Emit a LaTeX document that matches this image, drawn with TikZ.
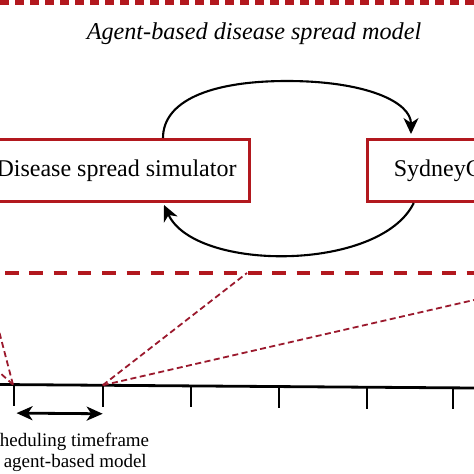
\documentclass[tikz,border=0pt]{standalone}
\usepackage{fontspec}
\setmainfont{Liberation Serif}
\usetikzlibrary{arrows.meta,calc}
\definecolor{boxred}{RGB}{178,24,30}
\definecolor{linkred}{RGB}{155,25,45}
\begin{document}
\begin{tikzpicture}[x=1pt,y=-1pt,
  box/.style={draw=boxred, line width=3pt, minimum height=62pt, inner ysep=0pt,
    font=\fontsize{24}{28}\selectfont},
  arr/.style={line width=2.1pt, -{Stealth[length=16pt,width=15pt,inset=5pt]}},
  dblarr/.style={line width=2.8pt, {Stealth[length=16pt,width=14pt,inset=4.5pt]}-{Stealth[length=16pt,width=14pt,inset=4.5pt]}},
  bigdash/.style={draw=boxred, line width=6pt, dash pattern=on 9pt off 6pt},
  middash/.style={draw=boxred, line width=4.3pt, dash pattern=on 13.5pt off 10.8pt},
  thindash/.style={draw=linkred, line width=1.8pt, dash pattern=on 6pt off 3.5pt},
  axis/.style={line width=2.8pt},
  tick/.style={line width=2.2pt}]
\useasboundingbox (0,0) rectangle (474,474);
\clip (0,0) rectangle (474,474);
\fill[white] (0,0) rectangle (474,474);

% top thick dashed frame line
\coordinate (ta) at (0,2);
\coordinate (tb) at (480,2);
\draw[bigdash] (ta) -- (tb);

% title
\node[font=\fontsize{24.2}{28}\selectfont\itshape, anchor=base] (title) at (254,39.5) {Agent-based disease spread model};

% boxes
\node[box, anchor=east, inner xsep=13pt] (lb) at (251,170.5) {Disease spread simulator};
\node[box, anchor=west, inner xsep=26.5pt] (rb) at (365.75,170.5) {SydneyC};

% arcs
\draw[arr] ([xshift=-88pt]lb.north east) .. controls (163,102) and (208,81) .. (287,81)
  .. controls (366,81) and (411,102) .. ([xshift=45.25pt,yshift=4pt]rb.north west);
\draw[arr] ([xshift=48pt]rb.south west) .. controls (380,272) and (195,272) .. ([xshift=-87pt,yshift=-2pt]lb.south east);

% middle dashed line
\coordinate (ma) at (5,273);
\coordinate (mb) at (480,273);
\coordinate (z1) at (247,273);
\draw[middash] (ma) -- (mb);

% timeline
\coordinate (t0) at (0,384.5);
\coordinate (t1) at (474,388);
\draw[axis] (t0) -- (t1);
\foreach \k/\x in {1/14,2/102.7,3/191,4/279,5/367,6/453}{
  \coordinate (k\k) at ($(t0)!\x/474!(t1)$);
  \draw[tick] (k\k) -- ++(0,21.5);
}

% thin dashed zoom lines
\coordinate (e1) at (474,300);
\coordinate (e2) at (-1.5,329);
\coordinate (e3) at (-1,372);
\draw[thindash] (k2) -- (z1);
\draw[thindash] (k2) -- (e1);
\draw[thindash] ([xshift=-1pt]k1) -- (e2);
\draw[thindash] ([xshift=-1pt]k1) -- (e3);

% double arrow
\draw[dblarr] ([xshift=2.5pt,yshift=-28.5pt]k1) -- ([yshift=-28.5pt]k2);

% caption
\node[font=\fontsize{19}{21}\selectfont, align=center, anchor=north, inner sep=0pt] (cap) at (65,432.5) {Scheduling timeframe\\of agent-based model};
\end{tikzpicture}
\end{document}
